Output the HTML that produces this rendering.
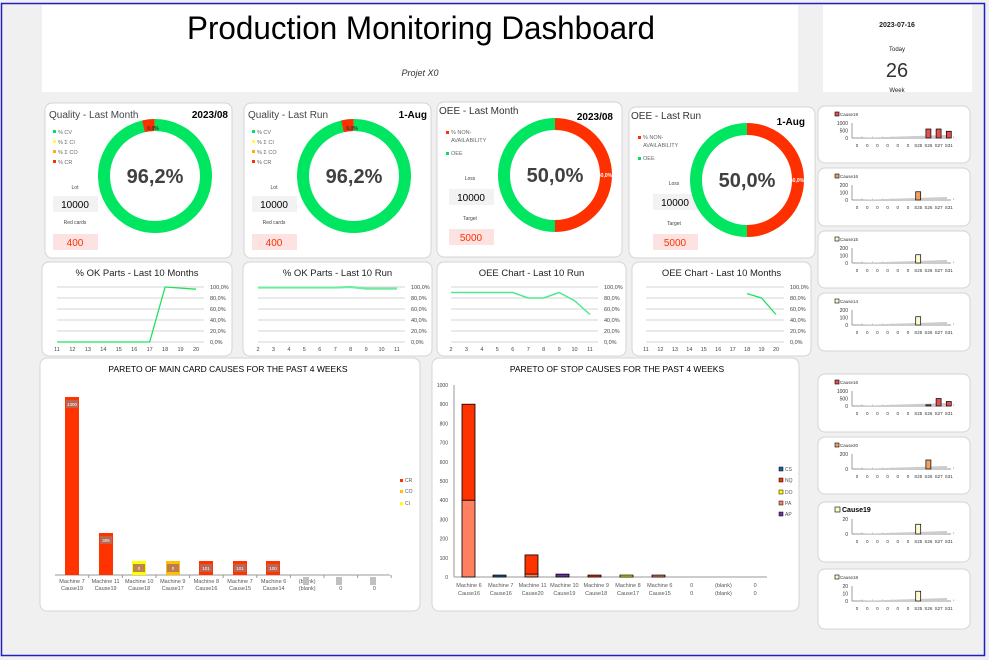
<!DOCTYPE html>
<html><head><meta charset="utf-8"><style>
body{margin:0;background:#f0f0f0;width:989px;height:660px;overflow:hidden;font-family:"Liberation Sans",sans-serif}
svg{display:block}
</style></head><body>
<svg id="s" width="989" height="660" xmlns="http://www.w3.org/2000/svg" font-family="Liberation Sans, sans-serif">
<rect x="0" y="0" width="989" height="660" fill="#f0f0f0"/>
<rect x="1.5" y="3.5" width="983" height="652" fill="none" stroke="#2020c0" stroke-width="1.5"/>
<rect x="42" y="5" width="756" height="87" fill="#fff"/>
<text x="421" y="39" font-size="32" text-anchor="middle" textLength="468" lengthAdjust="spacingAndGlyphs">Production Monitoring Dashboard</text>
<text x="420" y="76" font-size="9" font-style="italic" text-anchor="middle" fill="#333">Projet X0</text>
<rect x="823" y="5" width="149" height="87" fill="#fff"/>
<text x="897" y="27" font-size="7" font-weight="bold" text-anchor="middle" fill="#222">2023-07-16</text>
<text x="897" y="51" font-size="6" text-anchor="middle" fill="#222">Today</text>
<text x="897" y="77" font-size="20" text-anchor="middle" fill="#333">26</text>
<text x="897" y="92" font-size="6" text-anchor="middle" fill="#222">Week</text>
<g id="g"></g>
</svg>
<script>
var g=document.getElementById('g'),h='';
function card(x,y,w,hh){h+='<rect x="'+x+'" y="'+y+'" width="'+w+'" height="'+hh+'" rx="7" fill="#fff" stroke="#d4d4d4"/>';}
function t(x,y,s,sz,o){h+='<text x="'+x+'" y="'+y+'" font-size="'+sz+'" '+(o||'')+'>'+s+'</text>';}
function arc(cx,cy,r,a0,a1,col,sw){var p=function(a){a=(a-90)*Math.PI/180;return [cx+r*Math.cos(a),cy+r*Math.sin(a)]};var s=p(a0),e=p(a1);h+='<path d="M'+s[0]+' '+s[1]+' A'+r+' '+r+' 0 '+((a1-a0)>180?1:0)+' 1 '+e[0]+' '+e[1]+'" fill="none" stroke="'+col+'" stroke-width="'+sw+'"/>';}
[[45,'Quality - Last Month','2023/08',155],[244,'Quality - Last Run','1-Aug',354]].forEach(function(c){
 var x=c[0];card(x,103,187,155);t(x+4,118,c[1],10,'fill="#444"');t(x+183,118,c[2],10,'font-weight="bold" text-anchor="end"');
 var L=[['#00e060','% CV'],['#ffff40','% Σ CI'],['#ffb000','% Σ CO'],['#ff3000','% CR']];
 L.forEach(function(l,i){h+='<rect x="'+(x+8)+'" y="'+(130+i*10)+'" width="3" height="3" fill="'+l[0]+'"/>';t(x+13,134+i*10,l[1],5.5,'fill="#666"');});
 t(x+30,189,'Lot',5,'fill="#444" text-anchor="middle"');
 h+='<rect x="'+(x+8)+'" y="196" width="45" height="16" fill="#f2f2f2"/>';t(x+30,208,'10000',10,'text-anchor="middle"');
 t(x+30,224,'Red cards',5,'fill="#444" text-anchor="middle"');
 h+='<rect x="'+(x+8)+'" y="234" width="45" height="16" fill="#fde2e2"/>';t(x+30,246,'400',10,'fill="#ff3000" text-anchor="middle"');
 var cx=c[3],cy=176;arc(cx,cy,51,0,359.9,'#00e660',12);arc(cx,cy,51,347,359.5,'#ff3000',12);
 t(cx-2,130,'0,0%',5,'font-weight="bold" text-anchor="middle" fill="#333"');
 t(cx,183,'96,2%',20,'font-weight="bold" text-anchor="middle" fill="#404040"');
});
[[437,102,'OEE - Last Month','2023/08',555,175],[629,107,'OEE - Last Run','1-Aug',747,180]].forEach(function(c){
 var x=c[0],y=c[1];card(x,y,(x==437?185:186),(x==437?155:151));t(x+2,y+12,c[2],10,'fill="#333"');t(x+176,y+18,c[3],10,'font-weight="bold" text-anchor="end"');
 h+='<rect x="'+(x+9)+'" y="'+(y+29)+'" width="3" height="3" fill="#ff3000"/>';t(x+14,y+32,'% NON-',5.5,'fill="#666"');t(x+14,y+40,'AVAILABILITY',5.5,'fill="#666"');
 h+='<rect x="'+(x+9)+'" y="'+(y+50)+'" width="3" height="3" fill="#00e060"/>';t(x+14,y+53,'OEE',5.5,'fill="#666"');
 var ox=(x==437?x+12:x+24);t(ox+21,y+78,'Loss',5,'fill="#444" text-anchor="middle"');
 h+='<rect x="'+ox+'" y="'+(y+87)+'" width="45" height="16" fill="#f2f2f2"/>';t(ox+22,y+99,'10000',10,'text-anchor="middle"');
 t(ox+21,y+118,'Target',5,'fill="#444" text-anchor="middle"');
 h+='<rect x="'+ox+'" y="'+(y+127)+'" width="45" height="16" fill="#fde2e2"/>';t(ox+22,y+139,'5000',10,'fill="#ff3000" text-anchor="middle"');
 var cx=c[4],cy=c[5];arc(cx,cy,51,180,359.99,'#00e660',12);arc(cx,cy,51,0,180,'#ff3000',12);
 t(cx+50,cy+2,'50,0%',5,'fill="#fff" font-weight="bold" text-anchor="middle"');
 t(cx,cy+7,'50,0%',20,'font-weight="bold" text-anchor="middle" fill="#404040"');
});
function lc(x,w,title,labs,vals,x0,x1,col,sw){
 card(x,262,w,94);t(x+w/2,276,title,9.5,'text-anchor="middle" fill="#222"');
 var gl=['100,0%','80,0%','60,0%','40,0%','20,0%','0,0%'];
 for(var i=0;i<6;i++){var yy=287+i*11;h+='<line x1="'+x0+'" x2="'+(x1+8)+'" y1="'+yy+'" y2="'+yy+'" stroke="#c8c8c8" stroke-width="0.8"/>';t(x1+14,yy+2,gl[i],5.5,'fill="#444"');}
 var n=labs.length,d=(x1-x0)/(n-1),pts=[];
 for(var i=0;i<n;i++){var xx=x0+i*d;t(xx,351,labs[i],5.5,'fill="#444" text-anchor="middle"');if(vals[i]!=null)pts.push(xx+','+(342-vals[i]*0.55));}
 h+='<polyline points="'+pts.join(' ')+'" fill="none" stroke="'+col+'" stroke-width="'+sw+'"/>';
}
var m=[11,12,13,14,15,16,17,18,19,20],r=[2,3,4,5,6,7,8,9,10,11];
lc(42,190,'% OK Parts - Last 10 Months',m,[0,0,0,0,0,0,0,100,98,96],57,196,'#20e060',1.3);
lc(243,189,'% OK Parts  - Last 10 Run',r,[99,99,99,99,99,99,100,97,97,97],258,397,'#70ecA0',2.2);
lc(437,189,'OEE Chart - Last 10 Run',r,[90,90,90,90,90,80,80,90,75,50],451,590,'#50e890',1.5);
lc(632,179,'OEE Chart - Last 10 Months',m,[null,null,null,null,null,null,null,88,80,50],646,776,'#20e060',1.3);
card(40,358,380,253);t(228,372,'PARETO OF MAIN CARD CAUSES FOR THE PAST 4 WEEKS',8.5,'text-anchor="middle"');
h+='<line x1="55" x2="390" y1="575" y2="575" stroke="#999"/>';
var pb=[[72,397,'#ff3300','1300'],[106,533,'#ff3300','305'],[139,561,'#ffff00','0'],[173,561,'#ffc000','0'],[206,561,'#ff3300','101'],[240,561,'#ff3300','101'],[273,561,'#ff3300','100']];
pb.forEach(function(b){h+='<rect x="'+(b[0]-7)+'" y="'+b[1]+'" width="14" height="'+(575-b[1])+'" fill="'+b[2]+'"/>';h+='<rect x="'+(b[0]-6)+'" y="'+(b[1]+3)+'" width="12" height="8" fill="#b07060" opacity="0.85"/>';t(b[0],b[1]+9,b[3],4.5,'fill="#fff" text-anchor="middle"');});
var cl=[['Machine 7','Cause19'],['Machine 11','Cause19'],['Machine 10','Cause18'],['Machine 9','Cause17'],['Machine 8','Cause16'],['Machine 7','Cause15'],['Machine 6','Cause14'],['(blank)','(blank)'],['0','0'],['0','0']];
cl.forEach(function(c,i){var xx=72+i*33.6;t(xx,583,c[0],5.5,'fill="#555" text-anchor="middle"');t(xx,590,c[1],5.5,'fill="#555" text-anchor="middle"');h+='<line x1="'+(xx+16.8)+'" x2="'+(xx+16.8)+'" y1="575" y2="578" stroke="#999"/>';});
[[306],[339],[373]].forEach(function(a){h+='<rect x="'+(a[0]-3)+'" y="577" width="6" height="8" fill="#c0c0c0"/>';});
[['#ff3300','CR',482],['#ffc000','CO',493],['#ffff00','CI',505]].forEach(function(l){h+='<rect x="400" y="'+(l[2]-3)+'" width="3" height="3" fill="'+l[0]+'"/>';t(405,l[2],l[1],5,'fill="#555"');});
card(432,358,367,253);t(617,372,'PARETO OF STOP CAUSES FOR THE PAST 4 WEEKS',8.5,'text-anchor="middle"');
h+='<line x1="454" x2="454" y1="385" y2="577" stroke="#999"/><line x1="454" x2="767" y1="577" y2="577" stroke="#999"/>';
for(var i=0;i<=10;i++){var yy=577-i*19.2;t(448,yy+2,i*100,5,'fill="#444" text-anchor="end"');}
function sb(x,v0,v1,col){var y1=577-v1*0.192,y0=577-v0*0.192;h+='<rect x="'+x+'" y="'+y1+'" width="13" height="'+Math.max(y0-y1,1.5)+'" fill="'+col+'" stroke="#000" stroke-width="0.8"/>';}
sb(462,0,400,'#ff8060');sb(462,400,900,'#ff3300');sb(493,0,10,'#1f5fa0');sb(525,0,15,'#ff8060');sb(525,15,115,'#ff3300');sb(556,0,15,'#7030a0');sb(588,0,10,'#ff3300');sb(620,0,10,'#ffff00');sb(652,0,10,'#ff8060');
var cr=[['Machine 6','Cause16'],['Machine 7','Cause16'],['Machine 11','Cause20'],['Machine 10','Cause19'],['Machine 9','Cause18'],['Machine 8','Cause17'],['Machine 6','Cause15'],['0','0'],['(blank)','(blank)'],['0','0']];
cr.forEach(function(c,i){var xx=469+i*31.8;t(xx,587,c[0],5.5,'fill="#555" text-anchor="middle"');t(xx,595,c[1],5.5,'fill="#555" text-anchor="middle"');});
[['#1f5fa0','CS',471],['#ff3300','NQ',482],['#ffff00','DO',494],['#ff8060','PA',505],['#7030a0','AP',516]].forEach(function(l){h+='<rect x="779" y="'+(l[2]-4)+'" width="4" height="4" fill="'+l[0]+'" stroke="#000" stroke-width="0.5"/>';t(785,l[2],l[1],5,'fill="#555"');});
function mini(y,hh,name,col,ticks,bars,big){
 card(818,y,152,hh);
 h+='<rect x="835" y="'+(y+(big?5:6))+'" width="'+(big?5:4)+'" height="'+(big?5:4)+'" fill="'+col+'" stroke="#000" stroke-width="0.6"/>';
 t(big?842:840,y+10,name,big?7:4.5,big?'font-weight="bold"':'fill="#333"');
 var top=y+17,base=y+32;
 h+='<line x1="852" x2="852" y1="'+top+'" y2="'+base+'" stroke="#777" stroke-width="0.7"/><line x1="852" x2="951" y1="'+base+'" y2="'+base+'" stroke="#777" stroke-width="0.7"/>';
 ticks.forEach(function(tk,i){var yy=base-(base-top)*i/(ticks.length-1);t(848,yy+2,tk,5,'fill="#333" text-anchor="end"');});
 var lab=['0','0','0','0','0','0','S25','S26','S27','S31'];
 lab.forEach(function(l,i){var xx=857+i*10.2;t(xx,base+9,l,4.5,'fill="#333" text-anchor="middle"');h+='<line x1="'+(xx+5)+'" x2="'+(xx+5)+'" y1="'+base+'" y2="'+(base-1.5)+'" stroke="#777" stroke-width="0.5"/>';});
 h+='<polygon points="857,'+base+' 947,'+(base-3)+' 947,'+base+'" fill="#ccc"/>';
 bars.forEach(function(b){h+='<rect x="'+(857+b[0]*10.2-2.5)+'" y="'+(base-b[1]*(base-top))+'" width="5" height="'+b[1]*(base-top)+'" fill="'+col+'" stroke="#000" stroke-width="0.7"/>';});
}
mini(106,57,'Cause19','#e05050',['0','500','1000'],[[7,.6],[8,.6],[9,.45]]);
mini(168,58,'Cause16','#f0a060',['0','100','200'],[[6,.55]]);
mini(231,57,'Cause15','#fffacd',['0','100','200'],[[6,.55]]);
mini(293,58,'Cause14','#fffacd',['0','100','200'],[[6,.55]]);
mini(374,58,'Cause16','#e05050',['0','500','1000'],[[7,.08],[8,.5],[9,.3]]);
mini(437,57,'Cause20','#f0a060',['0','200'],[[7,.6]]);
mini(502,60,'Cause19','#fffacd',['0','20'],[[6,.65]],true);
mini(569,60,'Cause18','#fffacd',['0','10','20'],[[6,.65]]);
g.innerHTML=h;
</script>
</body></html>
